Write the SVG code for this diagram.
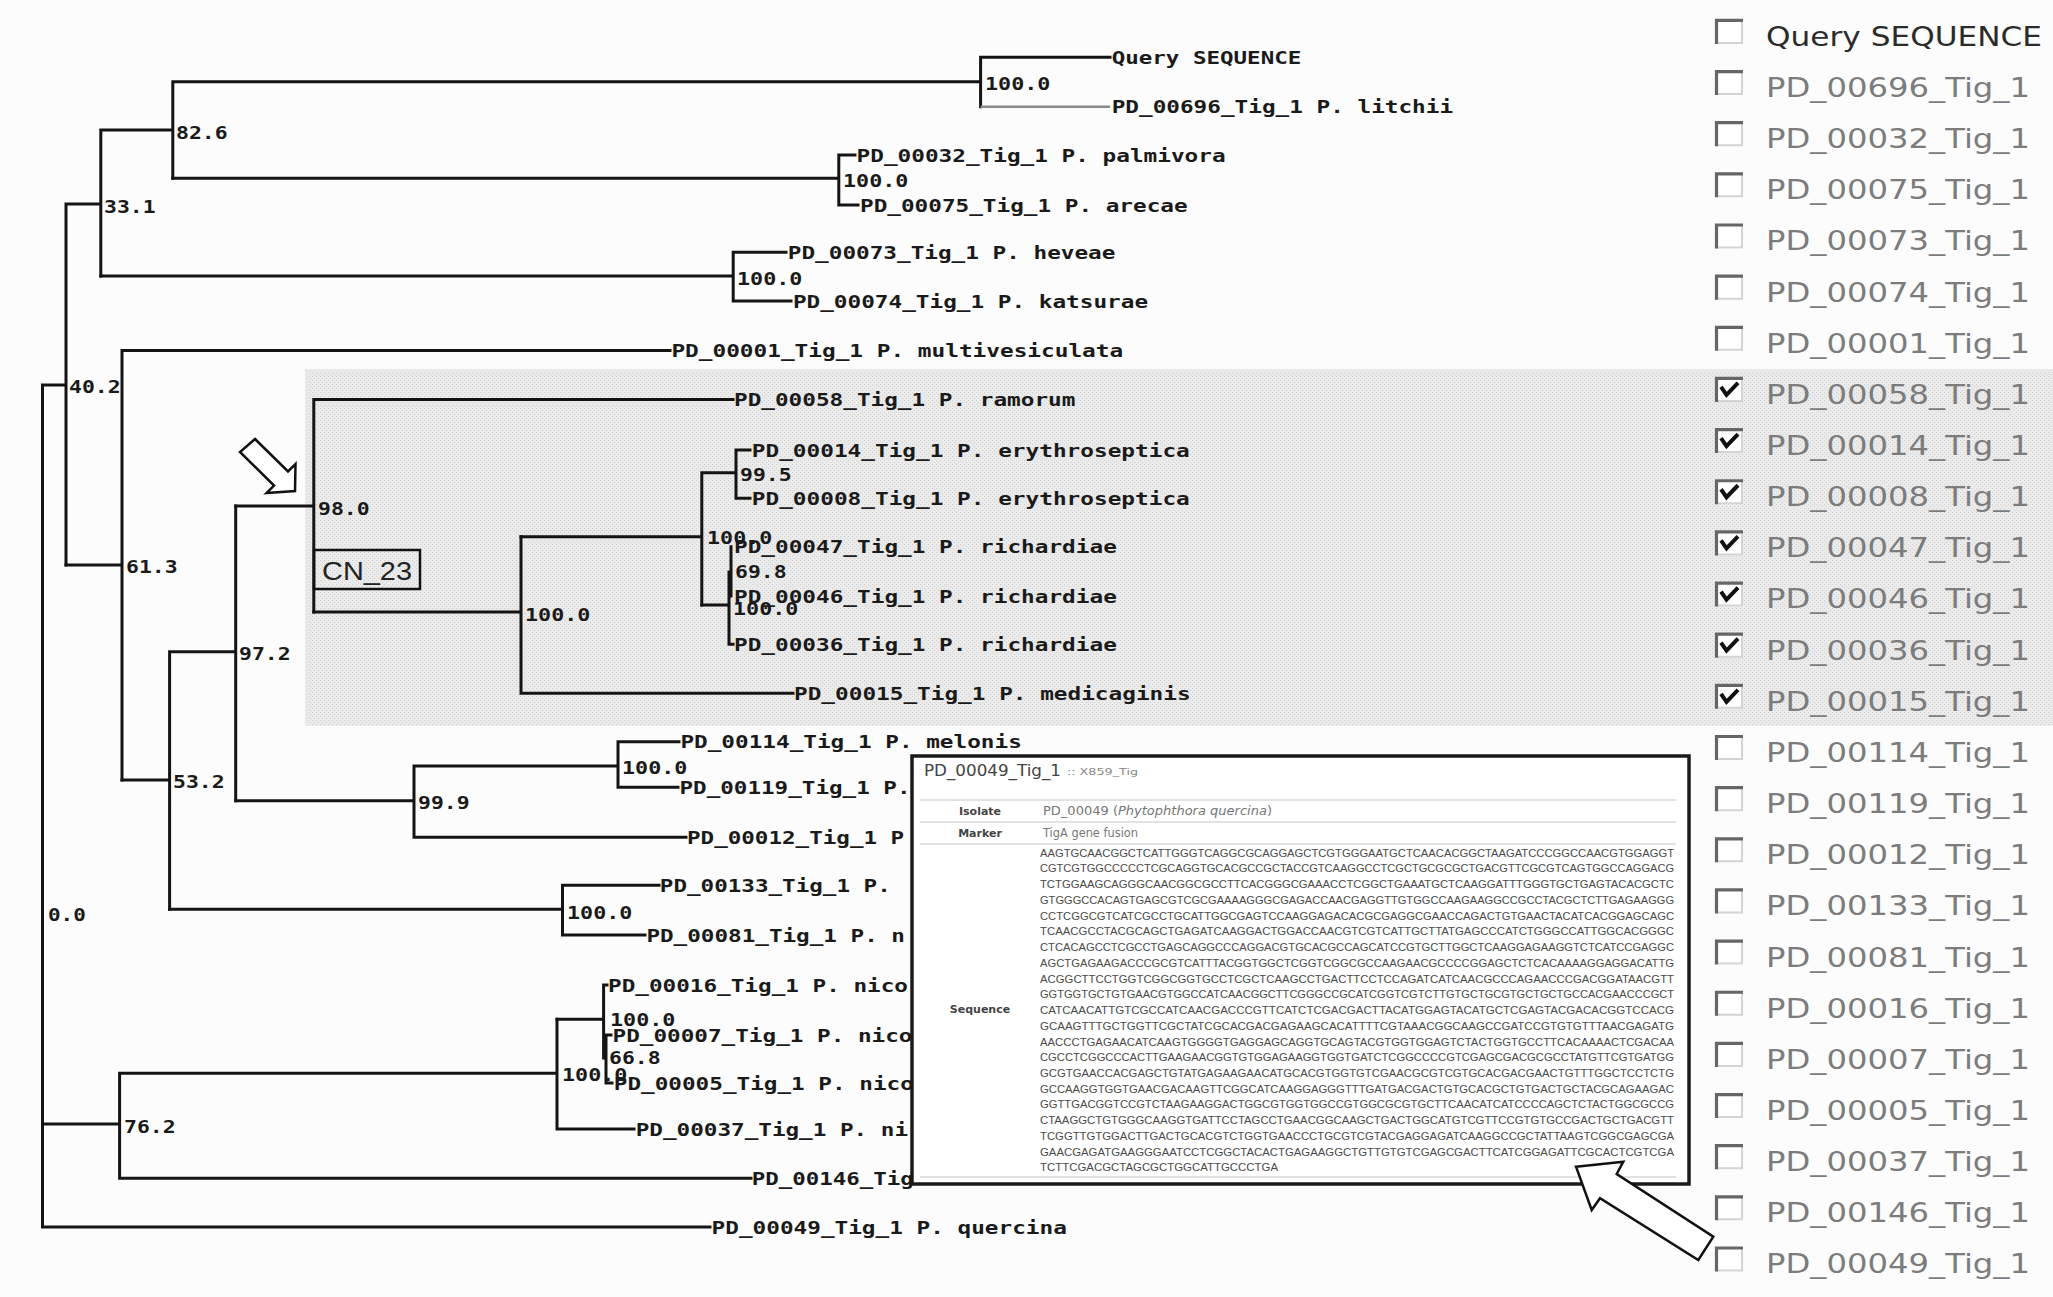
<svg xmlns="http://www.w3.org/2000/svg" width="2053" height="1297" viewBox="0 0 2053 1297">
<defs>
<pattern id="dots" width="4" height="4" patternUnits="userSpaceOnUse">
<rect width="4" height="4" fill="#ebebeb"/>
<rect x="0" y="0" width="1" height="1" fill="#cfcfcf"/>
<rect x="2" y="2" width="1" height="1" fill="#cfcfcf"/>
</pattern>
<g id="cb">
<rect x="0" y="0" width="28" height="25" fill="#fff"/>
<path d="M27,1.5 V24 H1.5" fill="none" stroke="#d4d4d4" stroke-width="2"/>
<path d="M1.5,25 V1.5 H28" fill="none" stroke="#666" stroke-width="3.2"/>
</g>
<polyline id="ck" points="6,10 11.5,18 23,6" fill="none" stroke="#111" stroke-width="4"/>
<style>
.br{fill:none;stroke:#141414;stroke-width:3;stroke-linecap:square}
.t{font-family:"DejaVu Sans Mono","Liberation Mono",monospace;font-size:17px;font-weight:bold;fill:#1a1a1a}
.cbt{font-family:"DejaVu Sans","Liberation Sans",sans-serif;font-size:27px;fill:#7c7c7c}
.seq{font-family:"Liberation Sans",Arial,sans-serif;font-size:10.5px;fill:#4a4a4a}
.pl{font-family:"DejaVu Sans","Liberation Sans",sans-serif;font-size:11px;font-weight:bold;fill:#444;text-anchor:middle}
.pv{font-family:"DejaVu Sans","Liberation Sans",sans-serif;font-size:12px;fill:#777}
.sep{stroke:#e2e2e2;stroke-width:2}
.arr{fill:#fff;stroke:#111;stroke-width:2.5;stroke-linejoin:miter}
</style>
</defs>

<rect x="0" y="0" width="2053" height="1297" fill="#fcfcfc"/>
<rect id="selection-band" x="305" y="369" width="1748" height="357" fill="url(#dots)"/>

<g id="connectors">
<path class="br" d="M42.5,385 V1227 H710 M42.5,385 H66 M66,204 V565 M66,204 H100.8 M100.8,130 V276 M100.8,130 H172.8 M172.8,81.7 V178.3 M172.8,81.7 H980.6 M980.6,57.3 V106.7 M980.6,57.3 H1110"/>
<path d="M980.6,106.7 H1110" fill="none" stroke="#8a8a8a" stroke-width="2.5"/>
<path class="br" d="M172.8,178.3 H838.8 M838.8,155 V205 M838.8,155 H855 M838.8,205 H858"/>
<path class="br" d="M100.8,276 H733.2 M733.2,252.3 V301 M733.2,252.3 H786 M733.2,301 H791"/>
<path class="br" d="M66,565 H122 M122,350.5 V780 M122,350.5 H670"/>
<path class="br" d="M122,780 H169.6 M169.6,651.7 V909.3 M169.6,651.7 H235.7 M235.7,506 V800.7"/>
<path class="br" d="M235.7,506 H313.8 M313.8,399.5 V612 M313.8,399.5 H733"/>
<path class="br" d="M313.8,612 H521 M521,536.7 V693.3 M521,693.3 H793"/>
<path class="br" d="M521,536.7 H701.8 M701.8,472.7 V605 M701.8,472.7 H736 M736,450 V498.3 M736,450 H750 M736,498.3 H750"/>
<path class="br" d="M701.8,605 H729 M729,572 V644.3 M729,644.3 H733 M729,572 H731 M731,546.7 V596"/>
<path class="br" d="M235.7,800.7 H414 M414,766 V837.3 M414,837.3 H686 M414,766 H618 M618,741.7 V787.3 M618,741.7 H679 M618,787.3 H678"/>
<path class="br" d="M169.6,909.3 H562.5 M562.5,885.3 V935 M562.5,885.3 H659 M562.5,935 H645"/>
<path class="br" d="M42.5,1124 H119.6 M119.6,1073.3 V1178.3 M119.6,1178.3 H751 M119.6,1073.3 H557 M557,1019.3 V1129 M557,1129 H634"/>
<path class="br" d="M557,1019.3 H603.6 M603.6,985 V1058 M603.6,985 H607 M603.6,1058 H606 M606,1035 V1083 M606,1035 H611 M606,1083 H612"/>
</g>

<g id="internal-nodes" class="t">
<text x="176" y="139" textLength="51.6" lengthAdjust="spacingAndGlyphs">82.6</text>
<text x="104" y="213" textLength="51.6" lengthAdjust="spacingAndGlyphs">33.1</text>
<text x="69" y="393" textLength="51.6" lengthAdjust="spacingAndGlyphs">40.2</text>
<text x="985" y="89.5" textLength="65.4" lengthAdjust="spacingAndGlyphs">100.0</text>
<text x="843" y="187" textLength="65.4" lengthAdjust="spacingAndGlyphs">100.0</text>
<text x="737" y="284.5" textLength="65.4" lengthAdjust="spacingAndGlyphs">100.0</text>
<text x="126" y="573" textLength="51.6" lengthAdjust="spacingAndGlyphs">61.3</text>
<text x="173" y="788" textLength="51.6" lengthAdjust="spacingAndGlyphs">53.2</text>
<text x="239" y="660" textLength="51.6" lengthAdjust="spacingAndGlyphs">97.2</text>
<text x="318" y="514.5" textLength="51.6" lengthAdjust="spacingAndGlyphs">98.0</text>
<text x="525" y="621" textLength="65.4" lengthAdjust="spacingAndGlyphs">100.0</text>
<text x="707" y="544" textLength="65.4" lengthAdjust="spacingAndGlyphs">100.0</text>
<text x="740" y="480.5" textLength="51.6" lengthAdjust="spacingAndGlyphs">99.5</text>
<text x="735" y="578" textLength="51.6" lengthAdjust="spacingAndGlyphs">69.8</text>
<text x="733" y="614.5" textLength="65.4" lengthAdjust="spacingAndGlyphs">100.0</text>
<text x="418" y="809" textLength="51.6" lengthAdjust="spacingAndGlyphs">99.9</text>
<text x="622" y="774" textLength="65.4" lengthAdjust="spacingAndGlyphs">100.0</text>
<text x="567" y="918.7" textLength="65.4" lengthAdjust="spacingAndGlyphs">100.0</text>
<text x="48" y="921" textLength="37.8" lengthAdjust="spacingAndGlyphs">0.0</text>
<text x="124" y="1132.7" textLength="51.6" lengthAdjust="spacingAndGlyphs">76.2</text>
<text x="562" y="1081" textLength="65.4" lengthAdjust="spacingAndGlyphs">100.0</text>
<text x="610" y="1026" textLength="65.4" lengthAdjust="spacingAndGlyphs">100.0</text>
<text x="609" y="1064" textLength="51.6" lengthAdjust="spacingAndGlyphs">66.8</text>
</g>

<g id="cn23">
<rect x="314" y="550" width="106" height="39" fill="none" stroke="#111" stroke-width="2.5"/>
<text x="322" y="580" font-family="Liberation Sans, Arial, sans-serif" font-size="25" fill="#222" textLength="90" lengthAdjust="spacingAndGlyphs">CN_23</text>
</g>

<g id="leaves" class="t">
<g id="leaf-query"><text x="1111.7" y="63.8" textLength="189.6" lengthAdjust="spacingAndGlyphs">Query SEQUENCE</text></g>
<g id="leaf-00696"><text x="1111.7" y="113.2" textLength="341.4" lengthAdjust="spacingAndGlyphs">PD_00696_Tig_1 P. litchii</text></g>
<g id="leaf-00032"><text x="856.6" y="161.5" textLength="369" lengthAdjust="spacingAndGlyphs">PD_00032_Tig_1 P. palmivora</text></g>
<g id="leaf-00075"><text x="860" y="211.5" textLength="327.6" lengthAdjust="spacingAndGlyphs">PD_00075_Tig_1 P. arecae</text></g>
<g id="leaf-00073"><text x="787.8" y="258.8" textLength="327.6" lengthAdjust="spacingAndGlyphs">PD_00073_Tig_1 P. heveae</text></g>
<g id="leaf-00074"><text x="792.9" y="307.5" textLength="355.2" lengthAdjust="spacingAndGlyphs">PD_00074_Tig_1 P. katsurae</text></g>
<g id="leaf-00001"><text x="671.4" y="357" textLength="451.8" lengthAdjust="spacingAndGlyphs">PD_00001_Tig_1 P. multivesiculata</text></g>
<g id="leaf-00058"><text x="734" y="406" textLength="341.4" lengthAdjust="spacingAndGlyphs">PD_00058_Tig_1 P. ramorum</text></g>
<g id="leaf-00014"><text x="751.8" y="456.5" textLength="438" lengthAdjust="spacingAndGlyphs">PD_00014_Tig_1 P. erythroseptica</text></g>
<g id="leaf-00008"><text x="751.8" y="504.8" textLength="438" lengthAdjust="spacingAndGlyphs">PD_00008_Tig_1 P. erythroseptica</text></g>
<g id="leaf-00047"><text x="734" y="553.2" textLength="382.8" lengthAdjust="spacingAndGlyphs">PD_00047_Tig_1 P. richardiae</text></g>
<g id="leaf-00046"><text x="734" y="602.5" textLength="382.8" lengthAdjust="spacingAndGlyphs">PD_00046_Tig_1 P. richardiae</text></g>
<g id="leaf-00036"><text x="734" y="650.8" textLength="382.8" lengthAdjust="spacingAndGlyphs">PD_00036_Tig_1 P. richardiae</text></g>
<g id="leaf-00015"><text x="794" y="699.8" textLength="396.6" lengthAdjust="spacingAndGlyphs">PD_00015_Tig_1 P. medicaginis</text></g>
<g id="leaf-00114"><text x="680.4" y="748.2" textLength="341.4" lengthAdjust="spacingAndGlyphs">PD_00114_Tig_1 P. melonis</text></g>
<g id="leaf-00119"><text x="679.5" y="793.8" textLength="231" lengthAdjust="spacingAndGlyphs">PD_00119_Tig_1 P.</text></g>
<g id="leaf-00012"><text x="687" y="843.8" textLength="217.2" lengthAdjust="spacingAndGlyphs">PD_00012_Tig_1 P</text></g>
<g id="leaf-00133"><text x="659.8" y="891.8" textLength="231" lengthAdjust="spacingAndGlyphs">PD_00133_Tig_1 P.</text></g>
<g id="leaf-00081"><text x="646.4" y="941.5" textLength="258.6" lengthAdjust="spacingAndGlyphs">PD_00081_Tig_1 P. n</text></g>
<g id="leaf-00016"><text x="608" y="991.5" textLength="300" lengthAdjust="spacingAndGlyphs">PD_00016_Tig_1 P. nico</text></g>
<g id="leaf-00007"><text x="612.5" y="1041.5" textLength="300" lengthAdjust="spacingAndGlyphs">PD_00007_Tig_1 P. nico</text></g>
<g id="leaf-00005"><text x="613.8" y="1089.5" textLength="300" lengthAdjust="spacingAndGlyphs">PD_00005_Tig_1 P. nico</text></g>
<g id="leaf-00037"><text x="635.7" y="1135.5" textLength="272.4" lengthAdjust="spacingAndGlyphs">PD_00037_Tig_1 P. ni</text></g>
<g id="leaf-00146"><text x="751.8" y="1184.8" textLength="162" lengthAdjust="spacingAndGlyphs">PD_00146_Tig</text></g>
<g id="leaf-00049"><text x="711.6" y="1233.5" textLength="355.2" lengthAdjust="spacingAndGlyphs">PD_00049_Tig_1 P. quercina</text></g>
</g>

<g id="checkbox-list" class="cbt">
<g id="cb-query"><use href="#cb" x="1715" y="18.9"/><text x="1766" y="45.8" fill="#2b2b2b" textLength="276" lengthAdjust="spacingAndGlyphs">Query SEQUENCE</text></g>
<g id="cb-00696"><use href="#cb" x="1715" y="70.05"/><text x="1766" y="96.95" textLength="264" lengthAdjust="spacingAndGlyphs">PD_00696_Tig_1</text></g>
<g id="cb-00032"><use href="#cb" x="1715" y="121.2"/><text x="1766" y="148.1" textLength="264" lengthAdjust="spacingAndGlyphs">PD_00032_Tig_1</text></g>
<g id="cb-00075"><use href="#cb" x="1715" y="172.35"/><text x="1766" y="199.25" textLength="264" lengthAdjust="spacingAndGlyphs">PD_00075_Tig_1</text></g>
<g id="cb-00073"><use href="#cb" x="1715" y="223.5"/><text x="1766" y="250.4" textLength="264" lengthAdjust="spacingAndGlyphs">PD_00073_Tig_1</text></g>
<g id="cb-00074"><use href="#cb" x="1715" y="274.65"/><text x="1766" y="301.55" textLength="264" lengthAdjust="spacingAndGlyphs">PD_00074_Tig_1</text></g>
<g id="cb-00001"><use href="#cb" x="1715" y="325.8"/><text x="1766" y="352.7" textLength="264" lengthAdjust="spacingAndGlyphs">PD_00001_Tig_1</text></g>
<g id="cb-00058"><use href="#cb" x="1715" y="376.95"/><use href="#ck" x="1715" y="376.95"/><text x="1766" y="403.85" textLength="264" lengthAdjust="spacingAndGlyphs">PD_00058_Tig_1</text></g>
<g id="cb-00014"><use href="#cb" x="1715" y="428.1"/><use href="#ck" x="1715" y="428.1"/><text x="1766" y="455" textLength="264" lengthAdjust="spacingAndGlyphs">PD_00014_Tig_1</text></g>
<g id="cb-00008"><use href="#cb" x="1715" y="479.25"/><use href="#ck" x="1715" y="479.25"/><text x="1766" y="506.15" textLength="264" lengthAdjust="spacingAndGlyphs">PD_00008_Tig_1</text></g>
<g id="cb-00047"><use href="#cb" x="1715" y="530.4"/><use href="#ck" x="1715" y="530.4"/><text x="1766" y="557.3" textLength="264" lengthAdjust="spacingAndGlyphs">PD_00047_Tig_1</text></g>
<g id="cb-00046"><use href="#cb" x="1715" y="581.55"/><use href="#ck" x="1715" y="581.55"/><text x="1766" y="608.45" textLength="264" lengthAdjust="spacingAndGlyphs">PD_00046_Tig_1</text></g>
<g id="cb-00036"><use href="#cb" x="1715" y="632.7"/><use href="#ck" x="1715" y="632.7"/><text x="1766" y="659.6" textLength="264" lengthAdjust="spacingAndGlyphs">PD_00036_Tig_1</text></g>
<g id="cb-00015"><use href="#cb" x="1715" y="683.85"/><use href="#ck" x="1715" y="683.85"/><text x="1766" y="710.75" textLength="264" lengthAdjust="spacingAndGlyphs">PD_00015_Tig_1</text></g>
<g id="cb-00114"><use href="#cb" x="1715" y="735"/><text x="1766" y="761.9" textLength="264" lengthAdjust="spacingAndGlyphs">PD_00114_Tig_1</text></g>
<g id="cb-00119"><use href="#cb" x="1715" y="786.15"/><text x="1766" y="813.05" textLength="264" lengthAdjust="spacingAndGlyphs">PD_00119_Tig_1</text></g>
<g id="cb-00012"><use href="#cb" x="1715" y="837.3"/><text x="1766" y="864.2" textLength="264" lengthAdjust="spacingAndGlyphs">PD_00012_Tig_1</text></g>
<g id="cb-00133"><use href="#cb" x="1715" y="888.45"/><text x="1766" y="915.35" textLength="264" lengthAdjust="spacingAndGlyphs">PD_00133_Tig_1</text></g>
<g id="cb-00081"><use href="#cb" x="1715" y="939.6"/><text x="1766" y="966.5" textLength="264" lengthAdjust="spacingAndGlyphs">PD_00081_Tig_1</text></g>
<g id="cb-00016"><use href="#cb" x="1715" y="990.75"/><text x="1766" y="1017.65" textLength="264" lengthAdjust="spacingAndGlyphs">PD_00016_Tig_1</text></g>
<g id="cb-00007"><use href="#cb" x="1715" y="1041.9"/><text x="1766" y="1068.8" textLength="264" lengthAdjust="spacingAndGlyphs">PD_00007_Tig_1</text></g>
<g id="cb-00005"><use href="#cb" x="1715" y="1093.05"/><text x="1766" y="1119.95" textLength="264" lengthAdjust="spacingAndGlyphs">PD_00005_Tig_1</text></g>
<g id="cb-00037"><use href="#cb" x="1715" y="1144.2"/><text x="1766" y="1171.1" textLength="264" lengthAdjust="spacingAndGlyphs">PD_00037_Tig_1</text></g>
<g id="cb-00146"><use href="#cb" x="1715" y="1195.35"/><text x="1766" y="1222.25" textLength="264" lengthAdjust="spacingAndGlyphs">PD_00146_Tig_1</text></g>
<g id="cb-00049"><use href="#cb" x="1715" y="1246.5"/><text x="1766" y="1273.4" textLength="264" lengthAdjust="spacingAndGlyphs">PD_00049_Tig_1</text></g>
</g>

<g id="popup">
<rect x="912" y="756" width="777" height="428" fill="#fff" stroke="#1a1a1a" stroke-width="3.5"/>
<text x="924" y="776" font-family="DejaVu Sans, Liberation Sans, sans-serif" font-size="15" fill="#444" textLength="137" lengthAdjust="spacingAndGlyphs">PD_00049_Tig_1</text>
<text x="1067" y="775" font-family="DejaVu Sans, Liberation Sans, sans-serif" font-size="9" fill="#888" textLength="71" lengthAdjust="spacingAndGlyphs">:: X859_Tig</text>
<line class="sep" x1="920" y1="800" x2="1676" y2="800"/>
<line class="sep" x1="920" y1="822" x2="1676" y2="822"/>
<line class="sep" x1="920" y1="844" x2="1676" y2="844"/>
<line class="sep" x1="920" y1="1177" x2="1676" y2="1177"/>
<text class="pl" x="980" y="815">Isolate</text>
<text class="pl" x="980" y="837">Marker</text>
<text class="pl" x="980" y="1013">Sequence</text>
<text class="pv" x="1043" y="815" textLength="229" lengthAdjust="spacingAndGlyphs">PD_00049 (<tspan font-style="italic">Phytophthora quercina</tspan>)</text>
<text class="pv" x="1043" y="837" fill="#aaa" font-size="11" textLength="95" lengthAdjust="spacingAndGlyphs">TigA gene fusion</text>
<g class="seq">
<text x="1040" y="856.7" textLength="634" lengthAdjust="spacingAndGlyphs">AAGTGCAACGGCTCATTGGGTCAGGCGCAGGAGCTCGTGGGAATGCTCAACACGGCTAAGATCCCGGCCAACGTGGAGGT</text>
<text x="1040" y="872.4" textLength="634" lengthAdjust="spacingAndGlyphs">CGTCGTGGCCCCCTCGCAGGTGCACGCCGCTACCGTCAAGGCCTCGCTGCGCGCTGACGTTCGCGTCAGTGGCCAGGACG</text>
<text x="1040" y="888.2" textLength="634" lengthAdjust="spacingAndGlyphs">TCTGGAAGCAGGGCAACGGCGCCTTCACGGGCGAAACCTCGGCTGAAATGCTCAAGGATTTGGGTGCTGAGTACACGCTC</text>
<text x="1040" y="903.9" textLength="634" lengthAdjust="spacingAndGlyphs">GTGGGCCACAGTGAGCGTCGCGAAAAGGGCGAGACCAACGAGGTTGTGGCCAAGAAGGCCGCCTACGCTCTTGAGAAGGG</text>
<text x="1040" y="919.6" textLength="634" lengthAdjust="spacingAndGlyphs">CCTCGGCGTCATCGCCTGCATTGGCGAGTCCAAGGAGACACGCGAGGCGAACCAGACTGTGAACTACATCACGGAGCAGC</text>
<text x="1040" y="935.4" textLength="634" lengthAdjust="spacingAndGlyphs">TCAACGCCTACGCAGCTGAGATCAAGGACTGGACCAACGTCGTCATTGCTTATGAGCCCATCTGGGCCATTGGCACGGGC</text>
<text x="1040" y="951.1" textLength="634" lengthAdjust="spacingAndGlyphs">CTCACAGCCTCGCCTGAGCAGGCCCAGGACGTGCACGCCAGCATCCGTGCTTGGCTCAAGGAGAAGGTCTCATCCGAGGC</text>
<text x="1040" y="966.8" textLength="634" lengthAdjust="spacingAndGlyphs">AGCTGAGAAGACCCGCGTCATTTACGGTGGCTCGGTCGGCGCCAAGAACGCCCCGGAGCTCTCACAAAAGGAGGACATTG</text>
<text x="1040" y="982.5" textLength="634" lengthAdjust="spacingAndGlyphs">ACGGCTTCCTGGTCGGCGGTGCCTCGCTCAAGCCTGACTTCCTCCAGATCATCAACGCCCAGAACCCGACGGATAACGTT</text>
<text x="1040" y="998.3" textLength="634" lengthAdjust="spacingAndGlyphs">GGTGGTGCTGTGAACGTGGCCATCAACGGCTTCGGGCCGCATCGGTCGTCTTGTGCTGCGTGCTGCTGCCACGAACCCGCT</text>
<text x="1040" y="1014" textLength="634" lengthAdjust="spacingAndGlyphs">CATCAACATTGTCGCCATCAACGACCCGTTCATCTCGACGACTTACATGGAGTACATGCTCGAGTACGACACGGTCCACG</text>
<text x="1040" y="1029.7" textLength="634" lengthAdjust="spacingAndGlyphs">GCAAGTTTGCTGGTTCGCTATCGCACGACGAGAAGCACATTTTCGTAAACGGCAAGCCGATCCGTGTGTTTAACGAGATG</text>
<text x="1040" y="1045.5" textLength="634" lengthAdjust="spacingAndGlyphs">AACCCTGAGAACATCAAGTGGGGTGAGGAGCAGGTGCAGTACGTGGTGGAGTCTACTGGTGCCTTCACAAAACTCGACAA</text>
<text x="1040" y="1061.2" textLength="634" lengthAdjust="spacingAndGlyphs">CGCCTCGGCCCACTTGAAGAACGGTGTGGAGAAGGTGGTGATCTCGGCCCCGTCGAGCGACGCGCCTATGTTCGTGATGG</text>
<text x="1040" y="1076.9" textLength="634" lengthAdjust="spacingAndGlyphs">GCGTGAACCACGAGCTGTATGAGAAGAACATGCACGTGGTGTCGAACGCGTCGTGCACGACGAACTGTTTGGCTCCTCTG</text>
<text x="1040" y="1092.7" textLength="634" lengthAdjust="spacingAndGlyphs">GCCAAGGTGGTGAACGACAAGTTCGGCATCAAGGAGGGTTTGATGACGACTGTGCACGCTGTGACTGCTACGCAGAAGAC</text>
<text x="1040" y="1108.4" textLength="634" lengthAdjust="spacingAndGlyphs">GGTTGACGGTCCGTCTAAGAAGGACTGGCGTGGTGGCCGTGGCGCGTGCTTCAACATCATCCCCAGCTCTACTGGCGCCG</text>
<text x="1040" y="1124.1" textLength="634" lengthAdjust="spacingAndGlyphs">CTAAGGCTGTGGGCAAGGTGATTCCTAGCCTGAACGGCAAGCTGACTGGCATGTCGTTCCGTGTGCCGACTGCTGACGTT</text>
<text x="1040" y="1139.8" textLength="634" lengthAdjust="spacingAndGlyphs">TCGGTTGTGGACTTGACTGCACGTCTGGTGAACCCTGCGTCGTACGAGGAGATCAAGGCCGCTATTAAGTCGGCGAGCGA</text>
<text x="1040" y="1155.6" textLength="634" lengthAdjust="spacingAndGlyphs">GAACGAGATGAAGGGAATCCTCGGCTACACTGAGAAGGCTGTTGTGTCGAGCGACTTCATCGGAGATTCGCACTCGTCGA</text>
<text x="1040" y="1171.3" textLength="238" lengthAdjust="spacingAndGlyphs">TCTTCGACGCTAGCGCTGGCATTGCCCTGA</text>
</g>
</g>

<g id="annotations">
<polygon class="arr" points="255,439 288,471.4 295.5,464 295,491 266.5,493 274,485.6 240,452"/>
<polygon class="arr" points="1576,1166.7 1623.3,1161.7 1616.7,1174 1713.3,1236.7 1698.3,1260 1600,1198.3 1591.7,1210"/>
</g>
</svg>
